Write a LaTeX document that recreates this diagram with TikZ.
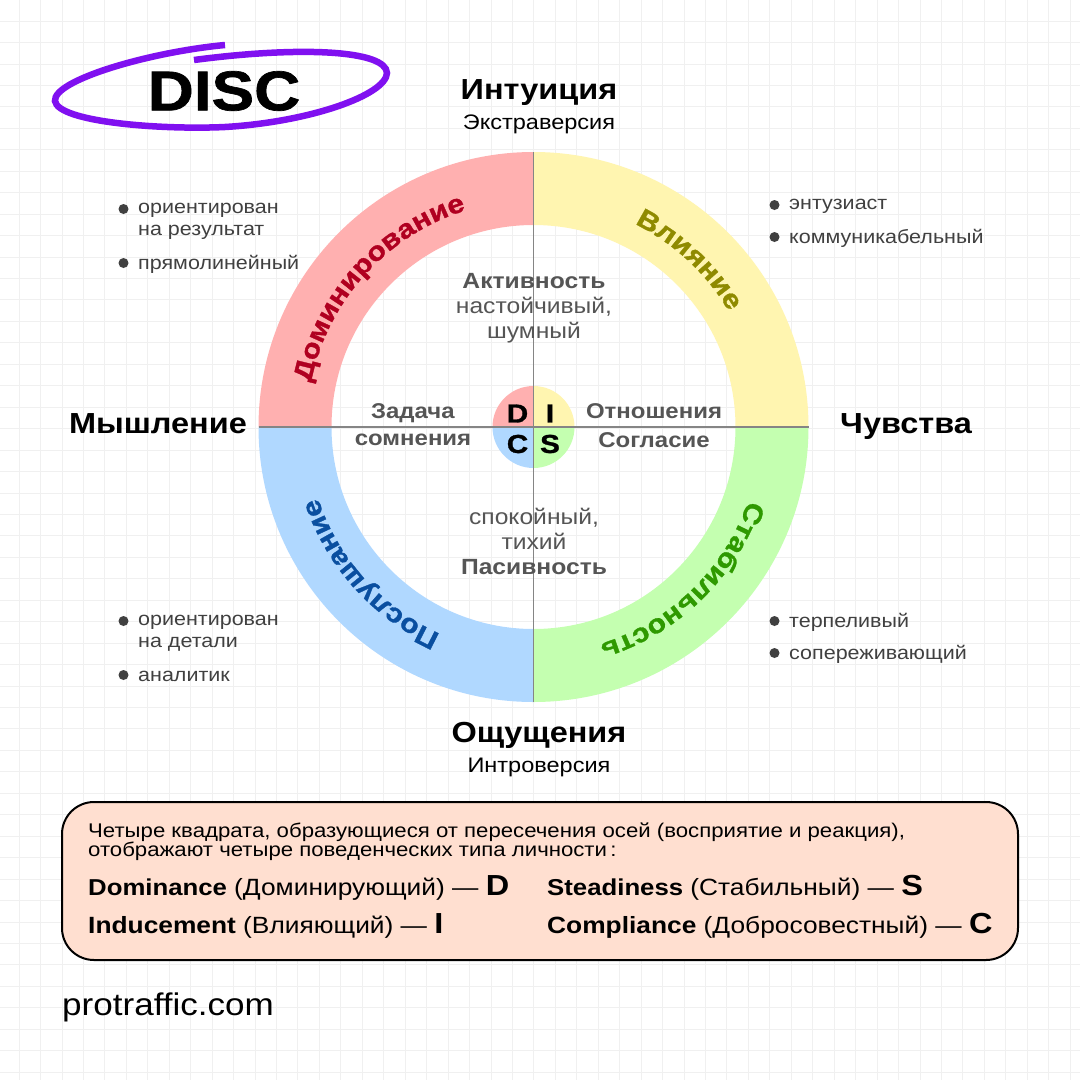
\documentclass[tikz,border=0pt]{standalone}
\usepackage{fontspec}
\setmainfont[FakeStretch=1.12]{Liberation Sans}
\newfontfamily\heavy[FakeStretch=1.14,BoldFeatures={FakeBold=1.2}]{Liberation Sans}
\usetikzlibrary{positioning,decorations.text}
\definecolor{cD}{HTML}{FFB0B0}
\definecolor{cI}{HTML}{FFF5B0}
\definecolor{cS}{HTML}{C4FFB0}
\definecolor{cC}{HTML}{B0D8FF}
\definecolor{panel}{HTML}{FFDFD0}
\definecolor{violet}{HTML}{8010F0}
\definecolor{gridc}{HTML}{F0F0F0}
\definecolor{ink}{HTML}{555555}
\begin{document}
\begin{tikzpicture}[x=1pt,y=1pt,
	head/.style={font=\fontsize{29}{31}\bfseries,inner sep=0pt,align=center},
	sub/.style={font=\fontsize{21}{24}\selectfont,inner sep=0pt,align=center},
	mid/.style={font=\fontsize{22}{25}\selectfont,text=ink,inner sep=0pt,align=center},
	side/.style={font=\fontsize{21.4}{25}\selectfont,text=ink,inner sep=0pt,align=center},
	note/.style={font=\fontsize{19.2}{22}\selectfont,text=black!75,inner sep=0pt,anchor=west,align=left},
	dot/.style={circle,fill=black!75,inner sep=0pt,minimum size=10pt},
	letter/.style={font=\fontsize{26}{26}\heavy\bfseries,inner sep=0pt},
	legend/.style={font=\fontsize{23.5}{25}\selectfont,inner sep=0pt,anchor=base west}]
	\useasboundingbox (0,0) rectangle (1080,-1080);
	\fill[white] (0,0) rectangle (1080,-1080);
	\foreach \i in {0,...,50} {
		\draw[gridc,line width=0.8pt] (19+21.45*\i,0) -- (19+21.45*\i,-1080);
		\draw[gridc,line width=0.8pt] (0,-21-21.45*\i) -- (1080,-21-21.45*\i);
	}

	\coordinate (ctr) at (533.5,-427);
	\coordinate (top) at (533.5,-152);
	\coordinate (bot) at (533.5,-702);
	\coordinate (lft) at (258.5,-427);
	\coordinate (rgt) at (808.5,-427);

	% ring
	\fill[cD] (ctr) ++(180:275) arc[start angle=180,end angle=90,radius=275] -- ++(0,-73) arc[start angle=90,end angle=180,radius=202] -- cycle;
	\fill[cI] (ctr) ++(90:275) arc[start angle=90,end angle=0,radius=275] -- ++(-73,0) arc[start angle=0,end angle=90,radius=202] -- cycle;
	\fill[cS] (ctr) ++(0:275) arc[start angle=0,end angle=-90,radius=275] -- ++(0,73) arc[start angle=-90,end angle=0,radius=202] -- cycle;
	\fill[cC] (ctr) ++(-90:275) arc[start angle=-90,end angle=-180,radius=275] -- ++(73,0) arc[start angle=-180,end angle=-90,radius=202] -- cycle;

	% middle disc
	\fill[cD] (ctr) -- ++(180:41) arc[start angle=180,end angle=90,radius=41] -- cycle;
	\fill[cI] (ctr) -- ++(90:41) arc[start angle=90,end angle=0,radius=41] -- cycle;
	\fill[cS] (ctr) -- ++(0:41) arc[start angle=0,end angle=-90,radius=41] -- cycle;
	\fill[cC] (ctr) -- ++(-90:41) arc[start angle=-90,end angle=-180,radius=41] -- cycle;

	\draw[black!48,line width=1.8pt] (top) -- (bot);
	\draw[black!48,line width=1.8pt] (lft) -- (rgt);

	\node[letter] (d) at (517.5,-413.5) {D};
	\node[letter] (i) at (550,-413.5) {I};
	\node[letter] (c) at (517.5,-444) {C};
	\node[letter] (s) at (550,-444) {S};

	% ring captions
	\path[decorate,decoration={text along path,text align=center,text={|\fontsize{26.5}{27}\heavy\bfseries\color[HTML]{B00020}|Доминирование}}]
		(ctr) ++(188:227) arc[start angle=188,end angle=88,radius=227];
	\path[decorate,decoration={text along path,text align=center,text={|\fontsize{26.5}{27}\heavy\bfseries\color[HTML]{8F8A00}|Влияние}}]
		(ctr) ++(97:227) arc[start angle=97,end angle=-3,radius=227];
	\path[decorate,decoration={text along path,text align=center,text={|\fontsize{26.5}{27}\heavy\bfseries\color[HTML]{2E9900}|Стабильность}}]
		(ctr) ++(4:227) arc[start angle=4,end angle=-96,radius=227];
	\path[decorate,decoration={text along path,text align=center,text={|\fontsize{26.5}{27}\heavy\bfseries\color[HTML]{0A4FA0}|Послушание}}]
		(ctr) ++(-88:227) arc[start angle=-88,end angle=-188,radius=227];

	% title
	\draw[violet,line width=6.5pt] (225,-45) .. controls (150,-52) and (53,-80) .. (55,-101)
		.. controls (58,-122) and (160,-130) .. (225,-127)
		.. controls (310,-122) and (386,-95) .. (387,-73)
		.. controls (386,-50) and (300,-46) .. (194,-60);
	\node[font=\fontsize{56}{56}\heavy\bfseries,inner sep=0pt] (title) at (224,-91) {DISC};

	% axis names
	\node[head] (intu) at (539,-93) {Интуиция};
	\node[sub] (extra) at (539,-124) {Экстраверсия};
	\node[head] (osch) at (539,-735) {Ощущения};
	\node[sub] (intro) at (539,-767) {Интроверсия};
	\node[head] (think) at (158,-424) {Мышление};
	\node[head] (feel) at (906,-427) {Чувства};

	% inner labels
	\node[mid] (act) at (534,-308) {\textbf{Активность}\\настойчивый,\\шумный};
	\node[mid] (pas) at (534,-541) {спокойный,\\тихий\\\textbf{Пасивность}};
	\node[side] (task) at (413,-413) {\textbf{Задача}};
	\node[side] (doubt) at (413,-440) {\textbf{сомнения}};
	\node[side] (rel) at (654,-411) {\textbf{Отношения}};
	\node[side] (agree) at (654,-440) {\textbf{Согласие}};

	% notes
	\node[dot] (n1) at (123.5,-209) {};
	\node[note] (t1) at (138,-221) {ориентирован\\на результат};
	\node[dot] (n2) at (123.5,-263) {};
	\node[note] (t2) at (138,-264) {прямолинейный};
	\node[dot] (n3) at (774.5,-205) {};
	\node[note] (t3) at (789,-206) {энтузиаст};
	\node[dot] (n4) at (774.5,-237) {};
	\node[note] (t4) at (789,-238) {коммуникабельный};
	\node[dot] (n5) at (123.5,-621) {};
	\node[note] (t5) at (138,-633) {ориентирован\\на детали};
	\node[dot] (n6) at (123.5,-675) {};
	\node[note] (t6) at (138,-676) {аналитик};
	\node[dot] (n7) at (774.5,-621) {};
	\node[note] (t7) at (789,-622) {терпеливый};
	\node[dot] (n8) at (774.5,-653) {};
	\node[note] (t8) at (789,-654) {сопереживающий};

	% panel
	\draw[fill=panel,line width=2pt,rounded corners=32pt] (62,-802) rectangle (1018,-960);
	\node[font=\fontsize{19.8}{19}\selectfont,inner sep=0pt,anchor=north west,align=left] (intro2) at (88,-823)
		{Четыре квадрата, образующиеся от пересечения осей (восприятие и реакция),\\отображают четыре поведенческих типа личности\,:};
	\node[legend] (l1) at (88,-895) {\fontsize{23}{25}\selectfont\textbf{Dominance} \fontsize{23.5}{25}\selectfont(Доминирующий) — \fontsize{29}{30}\selectfont\textbf{D}};
	\node[legend] (l2) at (88,-933) {\fontsize{23.5}{25}\selectfont\textbf{Inducement} (Влияющий) — \fontsize{29}{30}\selectfont\textbf{I}};
	\node[legend] (l3) at (547,-895) {\fontsize{23}{25}\selectfont\textbf{Steadiness} \fontsize{23.5}{25}\selectfont(Стабильный) — \fontsize{29}{30}\selectfont\textbf{S}};
	\node[legend] (l4) at (547,-933) {\fontsize{23.5}{25}\selectfont\textbf{Compliance} (Добросовестный) — \fontsize{29}{30}\selectfont\textbf{C}};

	\node[font=\fontsize{31.3}{32}\selectfont,inner sep=0pt,anchor=base west] (site) at (62,-1015) {protraffic.com};
\end{tikzpicture}
\end{document}
